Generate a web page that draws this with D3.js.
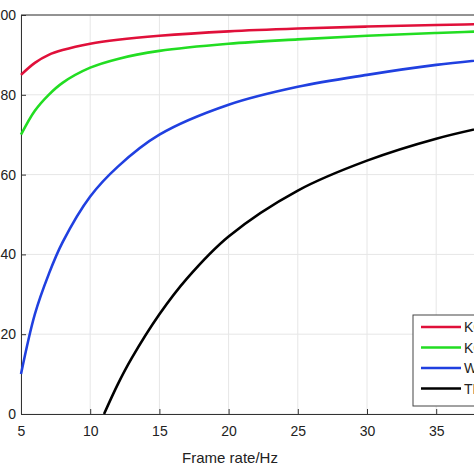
<!DOCTYPE html><html><head><meta charset="utf-8"><script src="https://cdn.jsdelivr.net/npm/d3@7"></script>
<style>body{margin:0;background:#fff}svg{display:block}text{font-family:Arial,"Liberation Sans",sans-serif}</style></head><body>
<svg id="c" width="474" height="474"></svg>
<script>
const redX=[5,6,7,8,10,12,15,20,25,30,35,40];
const redY=[85,88,90,91.2,92.8,93.8,94.8,95.9,96.6,97.1,97.5,97.8];
const greenX=[5,6,7,8,10,12,15,20,25,30,35,40];
const greenY=[70,76,80,83,86.8,89,91,92.8,93.9,94.8,95.5,96.1];
const blueX=[5,6,7,8,10,12,15,20,25,30,35,40];
const blueY=[10,25,35,43,54.5,62,70,77.5,82,85,87.5,89.3];
const blackX=[11,12,13,15,17,20,25,30,35,40];
const blackY=[0,7.5,14,25,34,44.5,56,63.5,69,73];
const names=["KCF","KCF-M","WKF","TLD"];
const colors=["#e0103a","#22dd22","#2040e0","#000000"];
const xTicks=[5,10,15,20,25,30,35,40];
const yTicks=[0,20,40,60,80,100];

const svg=d3.select("#c");
const L=21,T=15,B=414;
const x=d3.scaleLinear().domain([5,40]).range([L,L+35*13.84]);
const y=d3.scaleLinear().domain([0,100]).range([B,T]);
const g=svg.append("g");
g.selectAll(".gx").data(xTicks).enter().append("line").attr("x1",d=>x(d)).attr("x2",d=>x(d)).attr("y1",T).attr("y2",B).attr("stroke","#e6e6e6");
g.selectAll(".gy").data(yTicks).enter().append("line").attr("x1",L).attr("x2",474).attr("y1",d=>y(d)).attr("y2",d=>y(d)).attr("stroke","#e6e6e6");
const ax=svg.append("g").attr("transform",`translate(0,${B})`).call(d3.axisBottom(x).tickValues(xTicks).tickSize(-5).tickPadding(12));
const ay=svg.append("g").attr("transform",`translate(${L},0)`).call(d3.axisLeft(y).tickValues(yTicks).tickSize(-5).tickPadding(5));
[ax,ay].forEach(a=>{a.selectAll("text").attr("font-size",14).attr("fill","#222");a.selectAll("line").attr("stroke","#333");a.select(".domain").attr("stroke","#333");});
svg.append("line").attr("x1",L).attr("x2",474).attr("y1",T).attr("y2",T).attr("stroke","#333");
const series=[[redX,redY],[greenX,greenY],[blueX,blueY],[blackX,blackY]];
const line=d3.line().x(d=>x(d[0])).y(d=>y(d[1])).curve(d3.curveCatmullRom.alpha(0.5));
series.forEach((s,i)=>{svg.append("path").datum(s[0].map((v,j)=>[v,s[1][j]])).attr("d",line).attr("fill","none").attr("stroke",colors[i]).attr("stroke-width",2.6);});
svg.append("text").attr("x",230).attr("y",463).attr("text-anchor","middle").attr("font-size",15).attr("fill","#222").text("Frame rate/Hz");
const lg=svg.append("g");
lg.append("rect").attr("x",413).attr("y",315).attr("width",80).attr("height",91).attr("fill","#fff").attr("stroke","#444");
names.forEach((n,i)=>{const yy=327+i*20.5;
lg.append("line").attr("x1",421).attr("x2",461).attr("y1",yy).attr("y2",yy).attr("stroke",colors[i]).attr("stroke-width",2.6);
lg.append("text").attr("x",464).attr("y",yy+5).attr("font-size",14).attr("fill","#222").text(n);});
</script></body></html>
